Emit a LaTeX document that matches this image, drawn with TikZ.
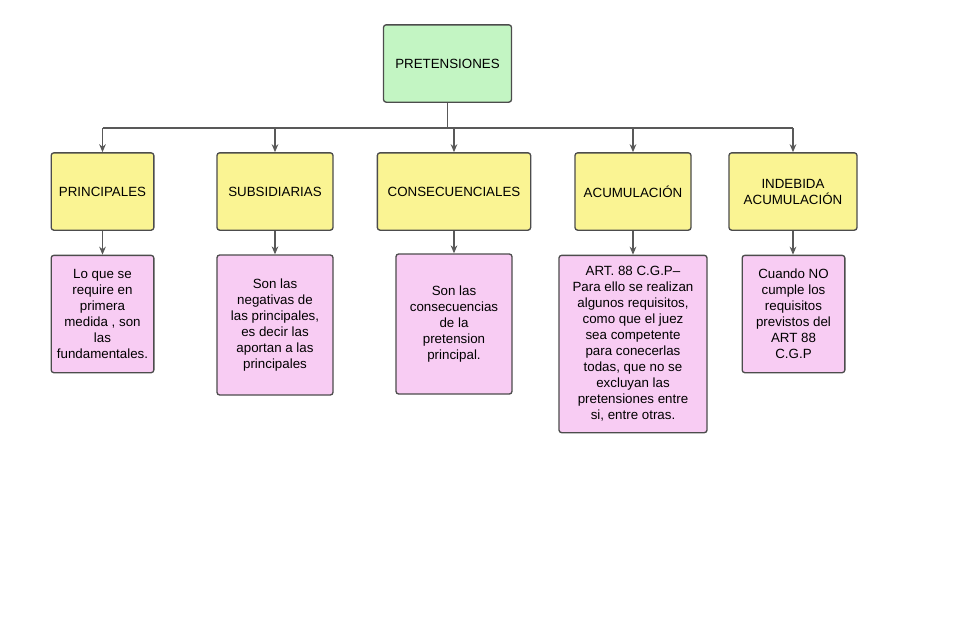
\documentclass[tikz,border=0pt]{standalone}
\usepackage{fontspec}
\setmainfont{Liberation Sans}
\usetikzlibrary{arrows.meta}
\definecolor{verde}{HTML}{C3F5C3}
\definecolor{amarillo}{HTML}{FAF493}
\definecolor{rosa}{HTML}{F8CCF3}
\tikzset{
  caja/.style={draw=black!70, line width=1pt, rounded corners=2pt, align=center,
    inner sep=0pt, font=\fontsize{10}{12}\selectfont},
  flecha/.style={draw=black!65, line width=0.8pt, -{Stealth[length=6pt,width=5pt]}}
}
\begin{document}
\begin{tikzpicture}[x=0.75pt,y=-0.75pt]
\useasboundingbox (0,0) rectangle (960,640);

\node[caja, fill=verde, minimum width=96pt, minimum height=58pt] (raiz) at (447.5,63.5) {PRETENSIONES};

\node[caja, fill=amarillo, minimum width=77pt, minimum height=58pt] (prin) at (102.5,191.5) {PRINCIPALES};
\node[caja, fill=amarillo, minimum width=87pt, minimum height=58pt] (subs) at (275,191.5) {SUBSIDIARIAS};
\node[caja, fill=amarillo, minimum width=115pt, minimum height=58pt] (cons) at (454,191.5) {CONSECUENCIALES};
\node[caja, fill=amarillo, minimum width=87pt, minimum height=58pt] (acum) at (633,191.5) {ACUMULACIÓN};
\node[caja, fill=amarillo, minimum width=96pt, minimum height=58pt] (inde) at (793,191.5) {INDEBIDA\\ACUMULACIÓN};

\node[caja, fill=rosa, minimum width=77pt, minimum height=88pt] (tprin) at (102.5,314) {Lo que se\\require en\\primera\\medida , son\\las\\fundamentales.};
\node[caja, fill=rosa, minimum width=87pt, minimum height=105pt] (tsubs) at (275,325) {Son las\\negativas de\\las principales,\\es decir las\\aportan a las\\principales};
\node[caja, fill=rosa, minimum width=87pt, minimum height=105pt] (tcons) at (454,324) {Son las\\consecuencias\\de la\\pretension\\principal.};
\node[caja, fill=rosa, minimum width=111pt, minimum height=133pt] (tacum) at (633,344) {ART. 88 C.G.P--\\Para ello se realizan\\algunos requisitos,\\como que el juez\\sea competente\\para conecerlas\\todas, que no se\\excluyan las\\pretensiones entre\\si, entre otras.};
\node[caja, fill=rosa, minimum width=77pt, minimum height=88pt] (tinde) at (793.5,314) {Cuando NO\\cumple los\\requisitos\\previstos del\\ART 88\\C.G.P};

\coordinate (rama) at (447.5,128);
\draw[draw=black!65, line width=0.8pt] (raiz.south) -- (rama);
\draw[draw=black!65, line width=0.8pt] (102.5,128) -- (793,128);
\foreach \n in {prin,subs,cons,acum,inde}
  \draw[flecha] (rama -| \n.north) -- (\n.north);
\foreach \a/\b in {prin/tprin,subs/tsubs,cons/tcons,acum/tacum,inde/tinde}
  \draw[flecha] (\a.south) -- (\a.south |- \b.north);
\end{tikzpicture}
\end{document}
